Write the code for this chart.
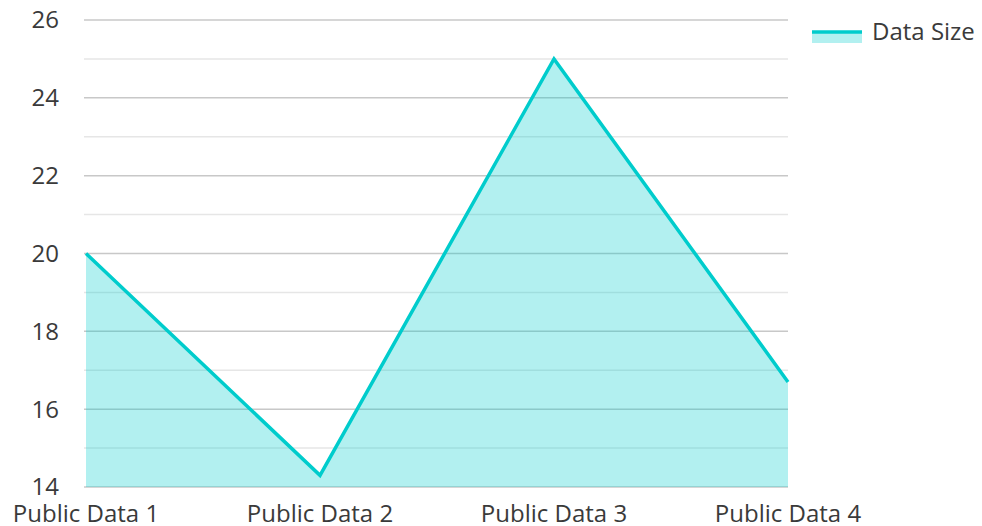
<!DOCTYPE html>
<html>
<head>
<meta charset="utf-8">
<script src="https://cdn.jsdelivr.net/npm/d3@7"></script>
<style>
	body { margin: 0; background: #fff; }
	svg text { font-family: 'Open Sans', 'Noto Sans', sans-serif; }
</style>
</head>
<body>
<div id="chart"></div>
<script>
const categories = ['Public Data 1', 'Public Data 2', 'Public Data 3', 'Public Data 4'];
const dataSize = [20, 14.3, 25, 16.7];
const yTicks = [14, 16, 18, 20, 22, 24, 26];
const yMinorTicks = [15, 17, 19, 21, 23, 25];
const seriesName = 'Data Size';

const LINE_COLOR = '#00cccc';
const TEXT_COLOR = '#3a3a3a';
const FONT_SIZE = 24;

const width = 982;
const height = 526;
const margin = {top: 20, right: 194, bottom: 39, left: 86};

const svg = d3
	.select('#chart')
	.append('svg')
	.attr('width', width)
	.attr('height', height);

const x = d3
	.scalePoint()
	.domain(categories)
	.range([margin.left, width - margin.right]);

const y = d3
	.scaleLinear()
	.domain([14, 26])
	.range([height - margin.bottom, margin.top]);

// grid lines
const grid = svg.append('g');
grid.selectAll('line.minor')
	.data(yMinorTicks)
	.enter()
	.append('line')
	.attr('class', 'minor')
	.attr('x1', margin.left - 2)
	.attr('x2', width - margin.right)
	.attr('y1', d => y(d))
	.attr('y2', d => y(d))
	.attr('stroke', '#e6e6e6')
	.attr('stroke-width', 1.5);

grid.selectAll('line.major')
	.data(yTicks)
	.enter()
	.append('line')
	.attr('class', 'major')
	.attr('x1', margin.left - 2)
	.attr('x2', width - margin.right)
	.attr('y1', d => y(d))
	.attr('y2', d => y(d))
	.attr('stroke', '#c8c8c8')
	.attr('stroke-width', 1.5);

const points = categories.map((c, i) => ({c, v: dataSize[i]}));

// area under the line
const area = d3
	.area()
	.x(d => x(d.c))
	.y0(y(14))
	.y1(d => y(d.v));

svg.append('path')
	.datum(points)
	.attr('d', area)
	.attr('fill', LINE_COLOR)
	.attr('fill-opacity', 0.3);

const line = d3
	.line()
	.x(d => x(d.c))
	.y(d => y(d.v));

svg.append('path')
	.datum(points)
	.attr('d', line)
	.attr('fill', 'none')
	.attr('stroke', LINE_COLOR)
	.attr('stroke-width', 3.5)
	.attr('stroke-linejoin', 'miter');

// y labels
svg.append('g')
	.selectAll('text')
	.data(yTicks)
	.enter()
	.append('text')
	.attr('x', 59)
	.attr('y', d => y(d))
	.attr('dy', '0.35em')
	.attr('text-anchor', 'end')
	.attr('font-size', FONT_SIZE)
	.attr('fill', TEXT_COLOR)
	.text(d => d);

// x labels
svg.append('g')
	.selectAll('text')
	.data(categories)
	.enter()
	.append('text')
	.attr('x', d => x(d))
	.attr('y', 522)
	.attr('text-anchor', 'middle')
	.attr('font-size', FONT_SIZE)
	.attr('fill', TEXT_COLOR)
	.text(d => d);

// legend
const legend = svg.append('g').attr('transform', 'translate(812, 32)');
legend.append('rect')
	.attr('x', 0)
	.attr('y', 0)
	.attr('width', 50)
	.attr('height', 11)
	.attr('fill', LINE_COLOR)
	.attr('fill-opacity', 0.3);
legend.append('line')
	.attr('x1', 0)
	.attr('x2', 50)
	.attr('y1', 0)
	.attr('y2', 0)
	.attr('stroke', LINE_COLOR)
	.attr('stroke-width', 3.5);
legend.append('text')
	.attr('x', 60)
	.attr('y', 0)
	.attr('dy', '0.35em')
	.attr('font-size', FONT_SIZE)
	.attr('fill', TEXT_COLOR)
	.text(seriesName);
</script>
</body>
</html>
